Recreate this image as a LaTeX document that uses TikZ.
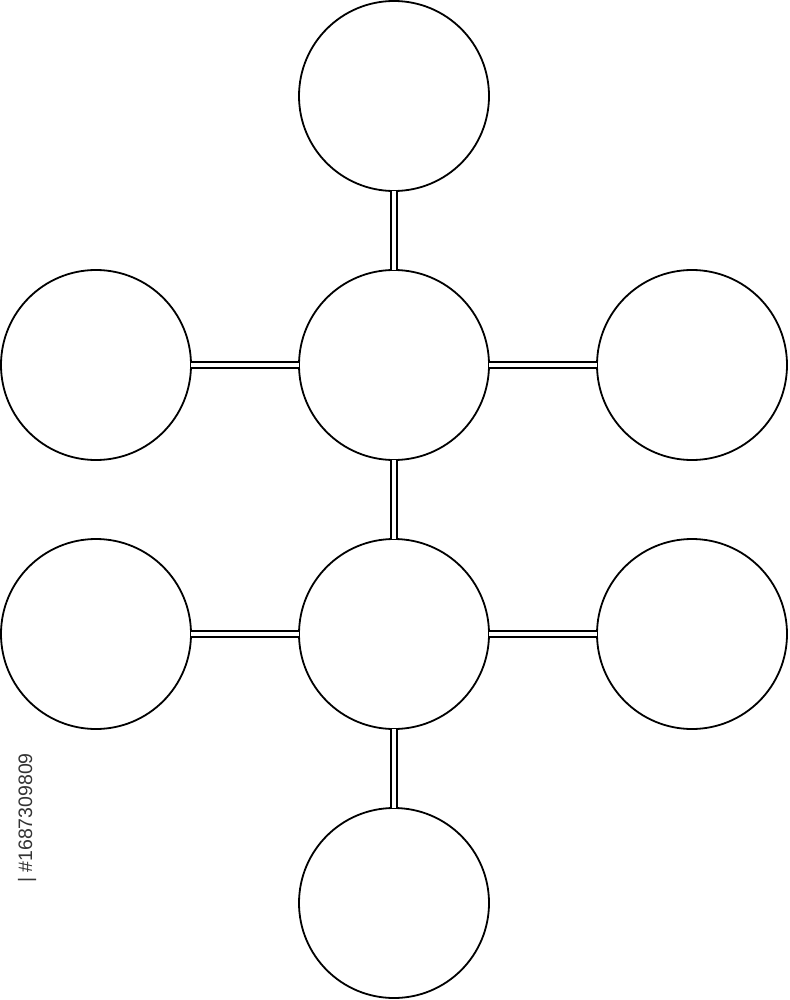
\documentclass[tikz,border=0pt]{standalone}
\usepackage{fontspec}
\newfontfamily\idfont{Liberation Sans}
\begin{document}
\begin{tikzpicture}[x=1pt,y=-1pt,
  ball/.style={circle,draw=black,line width=1.8pt,minimum size=190pt,inner sep=0pt,fill=white},
  link/.style={draw=black,line width=1.8pt,double=white,double distance=4pt,shorten <=-0.9pt,shorten >=-0.9pt},
  stockid/.style={font=\idfont\fontsize{19.5}{20}\selectfont,text=black!80,inner sep=0pt,rotate=90,anchor=base east}]
\useasboundingbox (0,0) rectangle (789,1000);
\node[ball] (top) at (394,96) {};
\node[ball] (c1) at (394,365) {};
\node[ball] (l1) at (96,365) {};
\node[ball] (r1) at (692,365) {};
\node[ball] (c2) at (394,634) {};
\node[ball] (l2) at (96,634) {};
\node[ball] (r2) at (692,634) {};
\node[ball] (bot) at (394,903) {};
\draw[link] (top.south) -- (c1.north);
\draw[link] (c1.south) -- (c2.north);
\draw[link] (c2.south) -- (bot.north);
\draw[link] (l1.east) -- (c1.west);
\draw[link] (c1.east) -- (r1.west);
\draw[link] (l2.east) -- (c2.west);
\draw[link] (c2.east) -- (r2.west);
\node[stockid] (id) at (32,753) {\textbar\ \#1687309809};
\end{tikzpicture}
\end{document}
